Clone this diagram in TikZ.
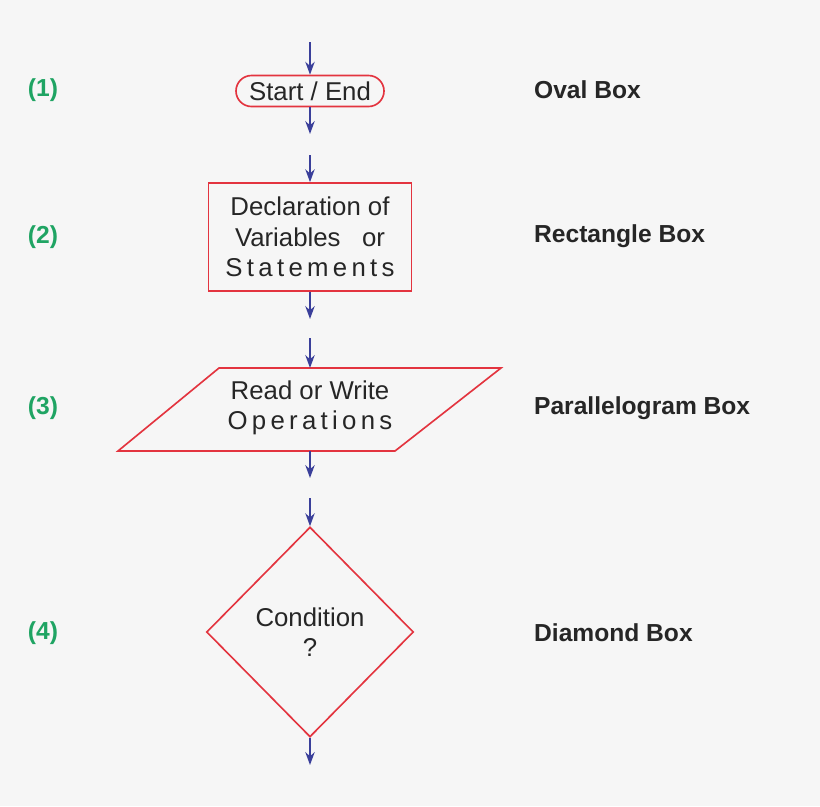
\documentclass[tikz,border=0pt]{standalone}
\usepackage{fontspec}
\setmainfont{Liberation Sans}
\usetikzlibrary{shapes.geometric,shapes.misc,arrows.meta,positioning}
\definecolor{bg}{HTML}{F6F6F6}
\definecolor{boxred}{HTML}{E3343F}
\definecolor{flowblue}{HTML}{3A3F9A}
\definecolor{numgreen}{HTML}{1FA463}
\begin{document}
\begin{tikzpicture}[x=0.03cm,y=-0.03cm,
    box/.style={draw=boxred,line width=1.4pt,align=center,font=\fontsize{22}{26}\selectfont,text=black!85},
    flow/.style={draw=flowblue,line width=1.4pt,-{Stealth[length=11pt,width=8pt]}},
    num/.style={text=numgreen,font=\fontsize{21}{24}\selectfont\bfseries},
    boxname/.style={anchor=west,text=black!85,font=\fontsize{21}{24}\selectfont\bfseries}]
  \fill[bg] (0,0) rectangle (820,806);
  \useasboundingbox (0,0) rectangle (820,806);

  % boxes
  \node[box,rounded rectangle,minimum width=148*0.03cm,minimum height=31*0.03cm,inner sep=0pt] (oval) at (310,91) {Start / End};
  \node[box,rectangle,minimum width=203*0.03cm,minimum height=108*0.03cm,inner sep=2pt] (rect) at (310,237)
    {Declaration of\\Variables\ \ \ or\\S\,t\,a\,t\,e\,m\,e\,n\,t\,s};
  \draw[boxred,line width=1.4pt] (219,368) -- (501,368) -- (395,451) -- (118,451) -- cycle;
  \coordinate (para-n) at (310,368);
  \coordinate (para-s) at (310,451);
  \node[box,draw=none] (para) at (310,408) {Read or Write\\O\,p\,e\,r\,a\,t\,i\,o\,n\,s};
  \node[box,diamond,minimum width=207*0.03cm,minimum height=210*0.03cm,inner sep=0pt,aspect=1] (dia) at (310,632) {Condition\\?};

  % connectors
  \coordinate (in1) at (310,42);   \coordinate (out1) at (310,134);
  \coordinate (in2) at (310,155);  \coordinate (out2) at (310,319);
  \coordinate (in3) at (310,338);  \coordinate (out3) at (310,478);
  \coordinate (in4) at (310,498);  \coordinate (out4) at (310,765);
  \draw[flow] (in1) -- (oval.north);
  \draw[flow] (oval.south) -- (out1);
  \draw[flow] (in2) -- (rect.north);
  \draw[flow] (rect.south) -- (out2);
  \draw[flow] (in3) -- (para-n);
  \draw[flow] (para-s) -- (out3);
  \draw[flow] (in4) -- (dia.north);
  \draw[flow] (dia.south) -- (out4);

  % labels
  \node[num] (n1) at (43,90) {(1)};
  \node[num] (n2) at (43,237) {(2)};
  \node[num] (n3) at (43,408) {(3)};
  \node[num] (n4) at (43,633) {(4)};
  \node[boxname] (l1) at (530,90) {Oval Box};
  \node[boxname] (l2) at (530,236) {Rectangle Box};
  \node[boxname] (l3) at (530,408) {Parallelogram Box};
  \node[boxname] (l4) at (530,633) {Diamond Box};
\end{tikzpicture}
\end{document}
